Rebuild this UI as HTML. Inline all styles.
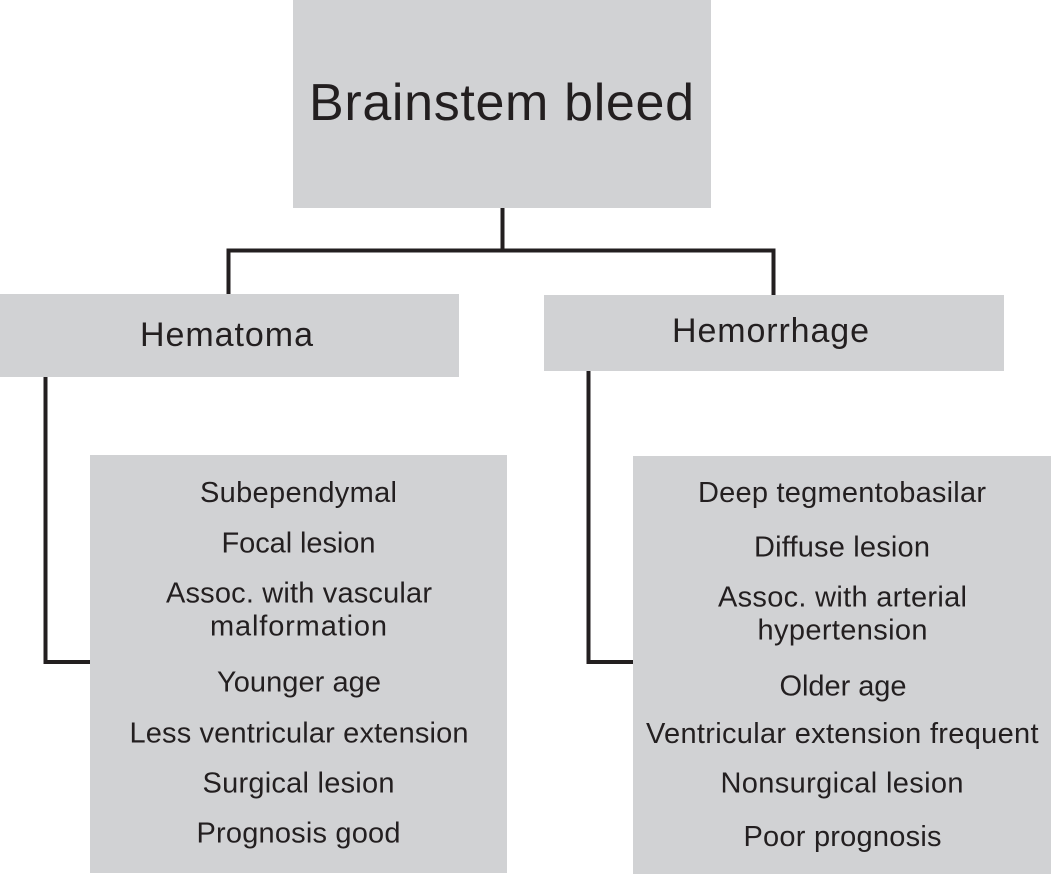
<!DOCTYPE html>
<html>
<head>
<meta charset="utf-8">
<style>
html,body{margin:0;padding:0;background:#fff;}
svg{display:block;}
text{font-family:"Liberation Sans",Arial,sans-serif;fill:#231f20;text-anchor:start;}
.s{font-size:29px;}
.m{font-size:34px;}
</style>
</head>
<body>
<svg width="1051" height="874" viewBox="0 0 1051 874" xmlns="http://www.w3.org/2000/svg">
<g fill="#d1d2d4">
<rect x="293" y="0" width="418" height="208"/>
<rect x="0" y="294" width="459" height="83"/>
<rect x="544" y="295" width="460" height="76"/>
<rect x="90" y="455" width="417" height="418"/>
<rect x="633" y="456" width="418" height="418"/>
</g>
<g fill="none" stroke="#231f20" stroke-width="4">
<path d="M502.500 208V250.500"/>
<path d="M228.500 294V250.500H773.500V295"/>
<path d="M45.500 377V662H90"/>
<path d="M588.500 371V662H633"/>
</g>
<text x="309" y="120" style="font-size:52px" textLength="385" lengthAdjust="spacing">Brainstem bleed</text>
<text class="m" x="140" y="346" textLength="173" lengthAdjust="spacing">Hematoma</text>
<text class="m" x="672" y="342" textLength="197" lengthAdjust="spacing">Hemorrhage</text>
<text class="s" x="200" y="502" textLength="197" lengthAdjust="spacing">Subependymal</text>
<text class="s" x="221.500" y="552.500" textLength="154" lengthAdjust="spacing">Focal lesion</text>
<text class="s" x="166" y="602.500" textLength="266" lengthAdjust="spacing">Assoc. with vascular</text>
<text class="s" x="210" y="635.500" textLength="177" lengthAdjust="spacing">malformation</text>
<text class="s" x="217" y="691.500" textLength="164" lengthAdjust="spacing">Younger age</text>
<text class="s" x="129.500" y="742.500" textLength="339" lengthAdjust="spacing">Less ventricular extension</text>
<text class="s" x="202.500" y="792.500" textLength="192" lengthAdjust="spacing">Surgical lesion</text>
<text class="s" x="196.500" y="842.500" textLength="204" lengthAdjust="spacing">Prognosis good</text>
<text class="s" x="698" y="502" textLength="288" lengthAdjust="spacing">Deep tegmentobasilar</text>
<text class="s" x="754" y="556.500" textLength="176" lengthAdjust="spacing">Diffuse lesion</text>
<text class="s" x="718" y="606.500" textLength="249" lengthAdjust="spacing">Assoc. with arterial</text>
<text class="s" x="757.500" y="639.500" textLength="170" lengthAdjust="spacing">hypertension</text>
<text class="s" x="779.500" y="695.500" textLength="127" lengthAdjust="spacing">Older age</text>
<text class="s" x="646" y="743" textLength="392.500" lengthAdjust="spacing">Ventricular extension frequent</text>
<text class="s" x="720.500" y="792.500" textLength="243" lengthAdjust="spacing">Nonsurgical lesion</text>
<text class="s" x="743.500" y="846" textLength="198" lengthAdjust="spacing">Poor prognosis</text>
</svg>
</body>
</html>
